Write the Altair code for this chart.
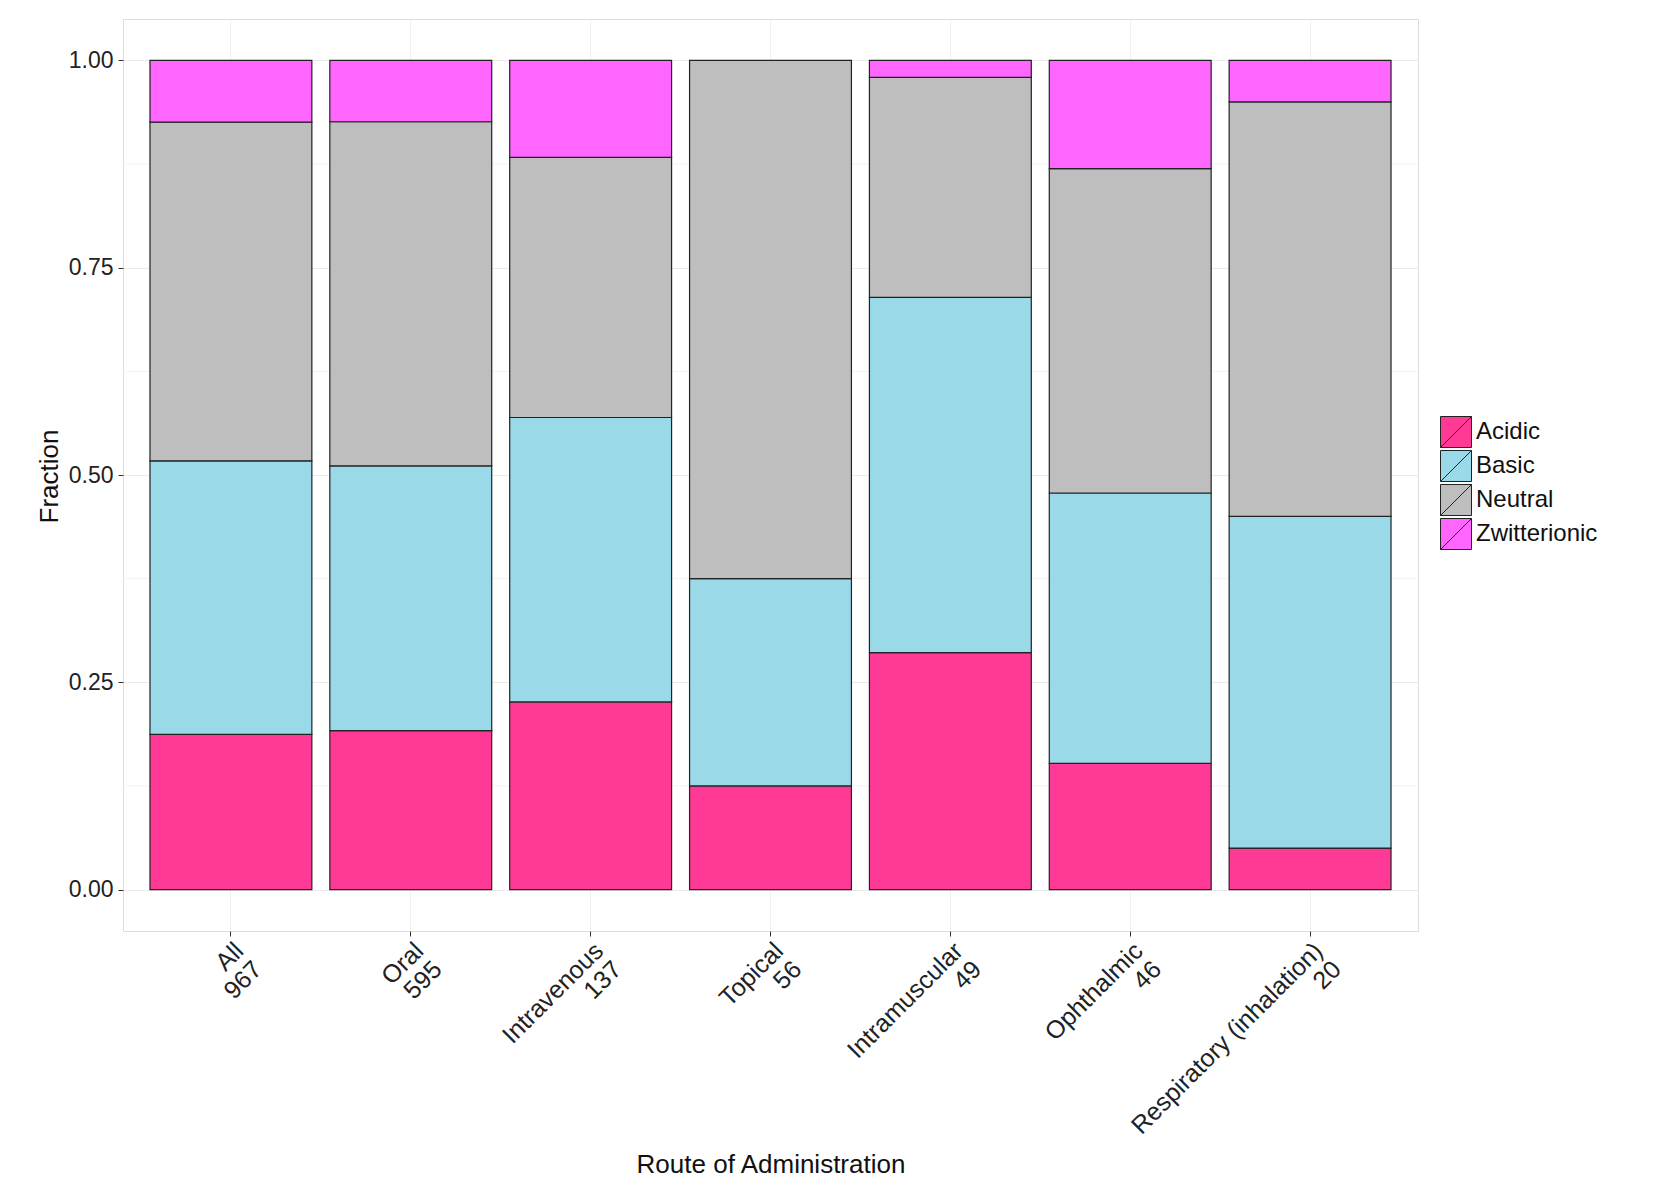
import altair as alt
import pandas as pd

routes = ["All", "Oral", "Intravenous", "Topical", "Intramuscular",
          "Ophthalmic", "Respiratory (inhalation)"]
classes = ["Acidic", "Basic", "Neutral", "Zwitterionic"]
acidic = [181, 114, 31, 7, 14, 7, 1]
basic = [319, 190, 47, 14, 21, 15, 8]
neutral = [395, 247, 43, 35, 13, 18, 10]
zwitterionic = [72, 44, 16, 0, 1, 6, 1]
colors = ["#FF3A96", "#9AD9E8", "#BEBEBE", "#FF66FF"]
y_ticks = [0, 0.25, 0.5, 0.75, 1.0]
y_minor = [0.125, 0.375, 0.625, 0.875]

series = [acidic, basic, neutral, zwitterionic]
rows = []
labels = []
for i, r in enumerate(routes):
    total = sum(s[i] for s in series)
    lab = f"{r}|{total}"
    labels.append(lab)
    for k, (c, s) in enumerate(zip(classes, series)):
        if s[i] > 0:
            rows.append({"route": lab, "cls": c, "n": s[i], "ord": k})
df = pd.DataFrame(rows)

FONT = "Liberation Sans"
yscale = alt.Scale(domain=[-0.05, 1.05], nice=False, zero=False)
yaxis = alt.Axis(
    title="Fraction", values=y_ticks, format=".2f",
    labelFontSize=23, labelFont=FONT, labelColor="#222222",
    labelPadding=5, tickSize=5, tickColor="#333333", domain=False,
    grid=True, gridColor="#EBEBEB",
    titleFont=FONT, titleFontSize=26, titleFontWeight="normal",
    titleColor="#111111", titleAngle=270, titleX=-74, titleY=457,
    titleAlign="center", titleBaseline="middle",
)

minor = alt.Chart(pd.DataFrame({"v": y_minor})).mark_rule(
    color="#F3F3F3", strokeWidth=1
).encode(y=alt.Y("v:Q", scale=yscale, axis=yaxis, title="Fraction"))

bars = alt.Chart(df).mark_bar(stroke="#222222", strokeWidth=1.2).encode(
    x=alt.X(
        "route:N", sort=labels,
        scale=alt.Scale(paddingInner=0.1, paddingOuter=0.15),
        axis=alt.Axis(
            title="Route of Administration",
            labelExpr="split(datum.label, '|')",
            labelAngle=-45, labelAlign="right", labelBaseline="top",
            labelFontSize=25, labelFont=FONT, labelColor="#222222",
            labelLineHeight=26, labelPadding=2, labelOverlap=False,
            labelLimit=0,
            tickSize=5, tickColor="#333333", domain=False,
            grid=True, gridColor="#F0F0F0", bandPosition=0.5,
            titleFont=FONT, titleFontSize=26, titleFontWeight="normal",
            titleColor="#111111", titleX=647.5, titleY=233,
            titleAlign="center", titleBaseline="middle",
        ),
    ),
    y=alt.Y("n:Q", stack="normalize", scale=yscale, axis=yaxis,
            title="Fraction"),
    color=alt.Color(
        "cls:N",
        scale=alt.Scale(domain=classes, range=colors),
        legend=alt.Legend(
            title=None, orient="none", legendX=1317, legendY=397,
            symbolType="M-1,-1L1,-1L1,1L-1,1Z M-1,1L1,-1",
            symbolSize=961, symbolStrokeColor="#222222",
            symbolStrokeWidth=1, symbolOpacity=1,
            labelFontSize=24, labelFont=FONT, labelColor="#111111",
            labelOffset=4, rowPadding=-9, padding=0,
        ),
    ),
    order=alt.Order("ord:Q", sort="ascending"),
)

chart = alt.layer(minor, bars).properties(
    width=1295, height=912,
    autosize=alt.AutoSizeParams(type="none"),
    padding={"left": 115, "top": 11, "right": 238, "bottom": 249},
).configure_view(stroke="#CCCCCC", strokeWidth=1.5).configure(background="white")

chart.save("out.html", embed_options={"renderer": "svg", "actions": False})
